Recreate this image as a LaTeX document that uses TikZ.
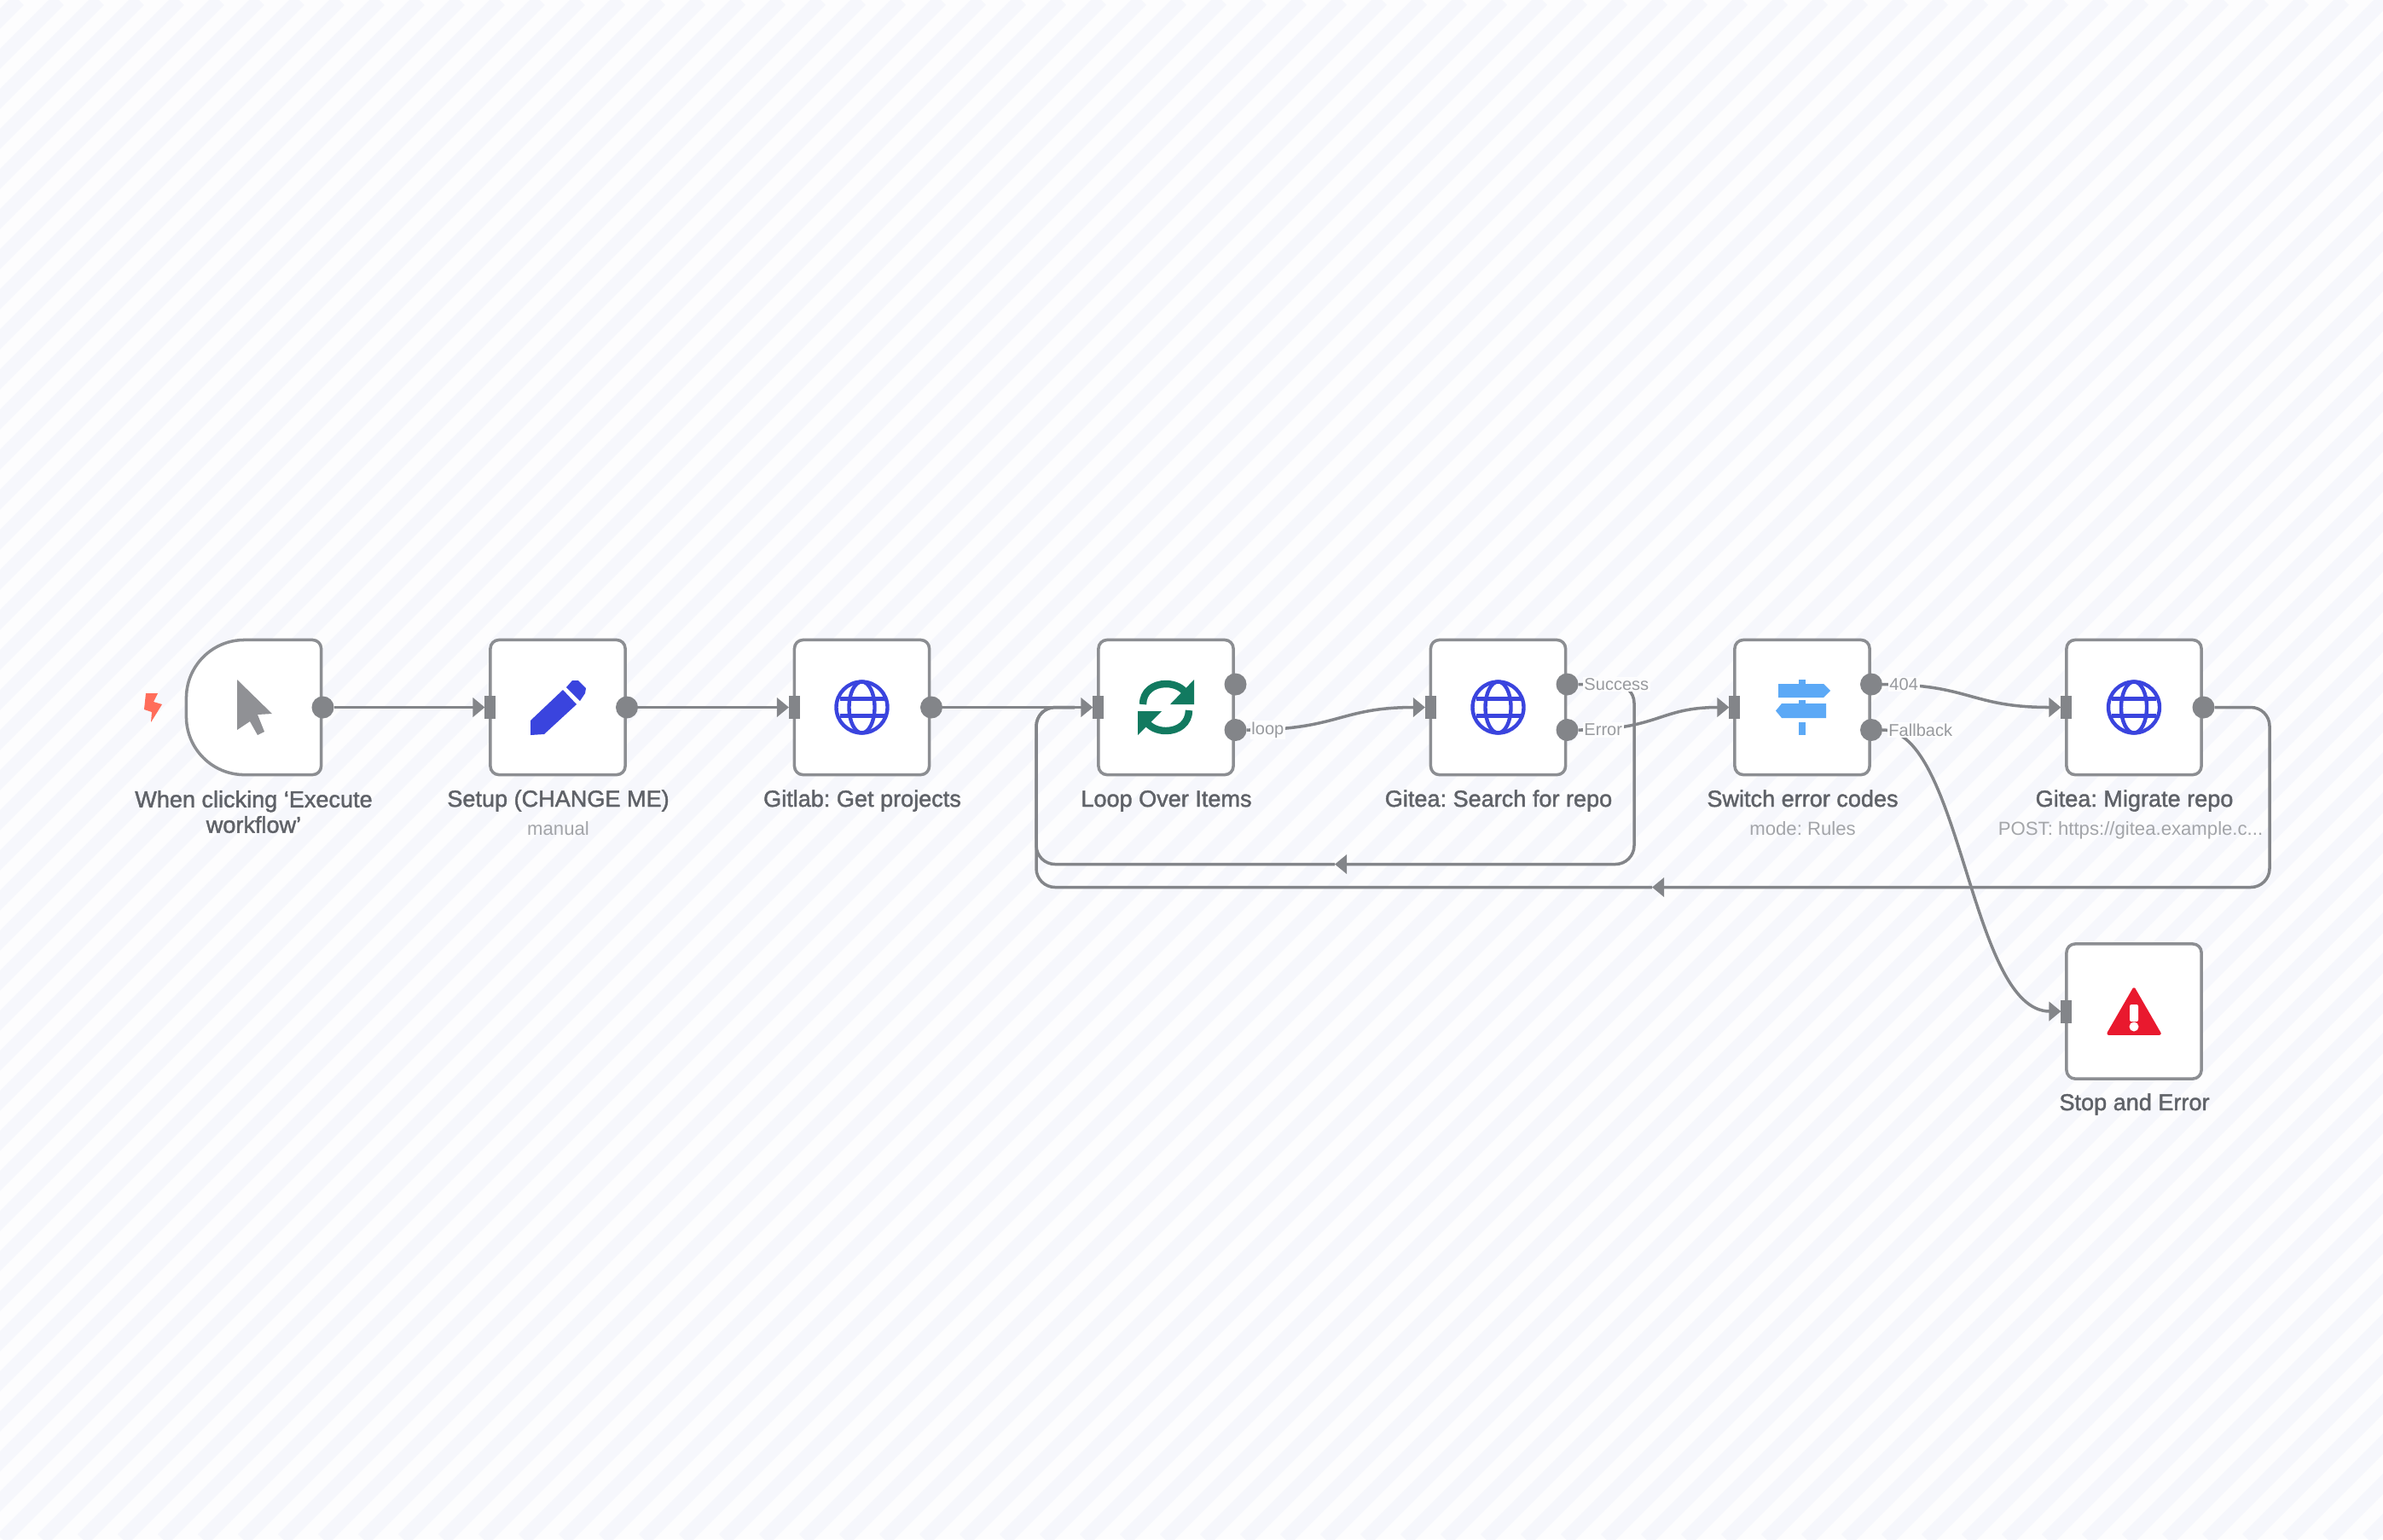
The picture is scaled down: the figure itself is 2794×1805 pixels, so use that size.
\documentclass[tikz,border=0pt]{standalone}
\usepackage{fontspec}
\setmainfont{Liberation Sans}
\newfontfamily\boldishfont[FakeBold=1.6]{Liberation Sans}
\usetikzlibrary{arrows.meta}
\definecolor{bgpale}{HTML}{FDFDFE}
\definecolor{bgstripe}{HTML}{F6F7FC}
\definecolor{wiregray}{HTML}{838589}
\definecolor{boxgray}{HTML}{8C8E92}
\definecolor{labelgray}{HTML}{5F6268}
\definecolor{subgray}{HTML}{A3A5A9}
\definecolor{portgray}{HTML}{989A9E}
\definecolor{globeblue}{HTML}{3A44DE}
\definecolor{syncgreen}{HTML}{127A60}
\definecolor{signblue}{HTML}{5CA9F6}
\definecolor{alertred}{HTML}{E9192E}
\definecolor{boltred}{HTML}{FF6D5A}
\definecolor{cursorgray}{HTML}{909195}
\tikzset{
	wfbox/.style={draw=boxgray, fill=white, line width=1pt, rounded corners=0.1cm, minimum size=1.58cm, inner sep=0pt, outer sep=0pt},
	wfghost/.style={minimum size=1.58cm, inner sep=0pt, outer sep=0pt},
	outport/.style={circle, fill=wiregray, minimum size=0.26cm, inner sep=0pt, outer sep=0pt},
	inport/.style={rectangle, fill=wiregray, minimum width=0.13cm, minimum height=0.27cm, inner sep=0pt, outer sep=0pt},
	wire/.style={draw=wiregray, line width=1pt, -{Triangle[length=0.14cm, width=0.22cm]}},
	wireplain/.style={draw=wiregray, line width=1pt},
	wflabel/.style={font=\frenchspacing\boldishfont\fontsize{7.7}{8.5}\selectfont, text=labelgray, align=center, inner sep=0pt},
	wfname/.style={wflabel, anchor=base},
	wfsub/.style={font=\frenchspacing\fontsize{6.3}{7}\selectfont, text=subgray, inner sep=0pt, anchor=base},
	portlabel/.style={font=\fontsize{5.7}{7}\selectfont, text=portgray, anchor=west, fill=bgpale, inner sep=0.5pt},
	globeicon/.pic={
		\draw[draw=globeblue, line width=1.25pt] (0,0) circle (30);
		\draw[draw=globeblue, line width=1.25pt] (0,0) ellipse (15 and 30);
		\draw[draw=globeblue, line width=1.25pt] (-26,-10) -- (26,-10);
		\draw[draw=globeblue, line width=1.25pt] (-26,10) -- (26,10);
	},
}
\begin{document}
\begin{tikzpicture}[x=0.01cm, y=-0.01cm, line cap=butt, line join=round]
	\useasboundingbox (0,0) rectangle (2794,1805);
	
	% Nền có sọc chéo
	\fill[bgpale] (0,0) rectangle (2794,1805);
	\begin{scope}
		\clip (0,0) rectangle (2794,1805);
		\foreach \s in {-1830,-1783,...,2820}
			\draw[bgstripe, line width=4.8pt] (\s,1805) -- ++(1805,-1805);
	\end{scope}
	
	% Các khối
	\node[wfghost] (trigger) at (297.5,829.5) {};
	\draw[draw=boxgray, fill=white, line width=1pt, rounded corners=0.1cm] (trigger.east) -- (trigger.north east) [rounded corners=0.68cm] -- (trigger.north west) -- (trigger.south west) [rounded corners=0.1cm] -- (trigger.south east) -- cycle;
	\node[wfbox] (setup) at (654,829.5) {};
	\node[wfbox] (gitlab) at (1010.5,829.5) {};
	\node[wfbox] (loop) at (1367,829.5) {};
	\node[wfbox] (search) at (1756.5,829.5) {};
	\node[wfbox] (switch) at (2113,829.5) {};
	\node[wfbox] (migrate) at (2502,829.5) {};
	\node[wfbox] (stop) at (2502,1186) {};
	
	% Cổng vào
	\node[inport] (setupin) at (setup.west) {};
	\node[inport] (gitlabin) at (gitlab.west) {};
	\node[inport] (loopin) at (loop.west) {};
	\node[inport] (searchin) at (search.west) {};
	\node[inport] (switchin) at (switch.west) {};
	\node[inport] (migratein) at (migrate.west) {};
	\node[inport] (stopin) at (stop.west) {};
	
	% Cổng ra
	\node[outport] (triggerout) at (378.5,829.5) {};
	\node[outport] (setupout) at (735,829.5) {};
	\node[outport] (gitlabout) at (1092,829.5) {};
	\node[outport] (loopdone) at (1448.5,802.5) {};
	\node[outport] (loopnext) at (1448.5,856) {};
	\node[outport] (searchok) at (1837.5,802.5) {};
	\node[outport] (searcherr) at (1837.5,856) {};
	\node[outport] (switchnf) at (2194,802.5) {};
	\node[outport] (switchfb) at (2194,856) {};
	\node[outport] (migrateout) at (2583.5,829.5) {};
	
	% Điểm mũi tên giữa đường quay lại
	\coordinate (backtipA) at (1565,1013.5);
	\coordinate (backtipB) at (1937,1040.5);
	
	% Các đường nối
	\draw[wire] (triggerout) -- (setupin);
	\draw[wire] (setupout) -- (gitlabin);
	\draw[wire] (gitlabout) -- (loopin);
	\draw[wire] (loopnext) .. controls (1570,856) and (1570,829.5) .. (searchin);
	\draw[wire] (searcherr) .. controls (1945,856) and (1945,829.5) .. (switchin);
	\draw[wire] (switchnf) .. controls (2310,802.5) and (2310,829.5) .. (migratein);
	\draw[wire] (switchfb) .. controls (2300,856) and (2310,1186) .. (stopin);
	\draw[wire, rounded corners=0.22cm] (searchok) -- (1916,802.5) -- (1916,1013.5) -- (backtipA);
	\draw[wireplain, rounded corners=0.22cm] (backtipA) -- (1215,1013.5) -- (1215,829.5) -- (1260,829.5);
	\draw[wire, rounded corners=0.22cm] (migrateout) -- (2661,829.5) -- (2661,1040.5) -- (backtipB);
	\draw[wireplain, rounded corners=0.22cm] (backtipB) -- (1215,1040.5) -- (1215,829.5) -- (1260,829.5);
	
	% Nhãn cổng
	\node[portlabel] (looplab) at (1465,856) {loop};
	\node[portlabel] (oklab) at (1855,802.5) {Success};
	\node[portlabel] (errlab) at (1855,856) {Error};
	\node[portlabel] (nflab) at (2213,802.5) {404};
	\node[portlabel] (fblab) at (2212,856) {Fallback};
	
	% Nhãn khối
	\node[wflabel] (triggername) at (297.5,952) {When clicking ‘Execute\\workflow’};
	\node[wfname] (setupname) at (654.5,946) {Setup (CHANGE ME)};
	\node[wfname] (gitlabname) at (1011,946) {Gitlab: Get projects};
	\node[wfname] (loopname) at (1367.5,946) {Loop Over Items};
	\node[wfname] (searchname) at (1757,946) {Gitea: Search for repo};
	\node[wfname] (switchname) at (2113.5,946) {Switch error codes};
	\node[wfname] (migratename) at (2502.5,946) {Gitea: Migrate repo};
	\node[wfname] (stopname) at (2502.5,1302) {Stop and Error};
	\node[wfsub] (setupsub) at (654.5,979) {manual};
	\node[wfsub] (switchsub) at (2113.5,979) {mode: Rules};
	\node[wfsub] (migratesub) at (2498,979) {POST: https://gitea.example.c...};
	
	% Biểu tượng tia sét và con trỏ
	\fill[boltred] (171,813) -- (185,813) -- (180,823) -- (190,826) -- (177,847) -- (178,835) -- (169,832) -- cycle;
	\fill[cursorgray] (278,797) -- (319,837) -- (302,838) -- (310,858) -- (302,862) -- (293,846) -- (278,856) -- cycle;
	
	% Biểu tượng bút chì
	\fill[globeblue] (622,845) -- (660,809) -- (676,826) -- (638,861) -- (622,862) -- cycle;
	\fill[globeblue] (664,806) -- (671,798) -- (678,798) -- (687,807) -- (686,813) -- (680,822) -- cycle;
	
	% Biểu tượng quả cầu
	\foreach \n in {gitlab,search,migrate}
		\pic at (\n) {globeicon};
	
	% Biểu tượng vòng lặp
	\draw[syncgreen, line width=2.4pt] (1340,826) .. controls (1340,811) and (1352,802) .. (1367,802) .. controls (1378,802) and (1387,807) .. (1391,814);
	\draw[syncgreen, line width=2.4pt] (1394,833) .. controls (1394,848) and (1382,857) .. (1367,857) .. controls (1356,857) and (1347,852) .. (1343,845);
	\fill[syncgreen] (1400,797) -- (1400,826) -- (1372,826) -- cycle;
	\fill[syncgreen] (1334,862) -- (1334,834) -- (1362,834) -- cycle;
	
	% Biểu tượng biển chỉ đường
	\fill[signblue] (2085,802) -- (2138,802) -- (2146,810) -- (2138,818) -- (2085,818) -- cycle;
	\fill[signblue] (2141,825) -- (2089,825) -- (2082,833.5) -- (2089,842) -- (2141,842) -- cycle;
	\fill[signblue] (2109,797) rectangle (2117,802);
	\fill[signblue] (2109,821) rectangle (2117,825);
	\fill[signblue] (2109,847) rectangle (2117,862);
	
	% Biểu tượng cảnh báo
	\filldraw[alertred, line width=1pt] (2502,1160) -- (2532,1212) -- (2472,1212) -- cycle;
	\fill[white, rounded corners=0.02cm] (2497,1178) rectangle (2507,1198);
	\fill[white] (2502,1204) circle (5.5);
\end{tikzpicture}
\end{document}
